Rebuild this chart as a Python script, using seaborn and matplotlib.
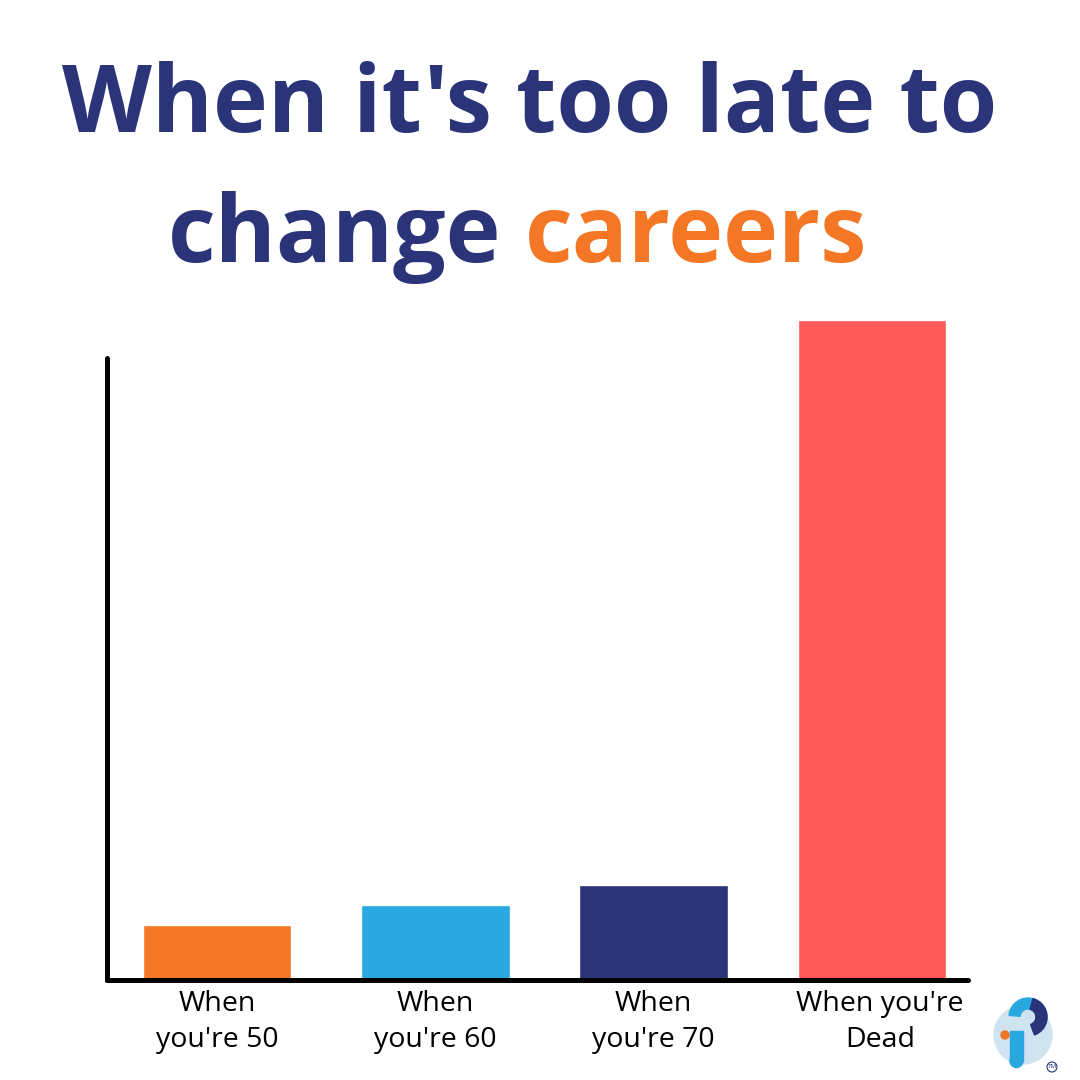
import matplotlib
matplotlib.use("Agg")
import matplotlib.pyplot as plt
import matplotlib.transforms as mtransforms
import seaborn as sns
import pandas as pd
from matplotlib.patches import Circle, Wedge, Rectangle

sns.set_theme(style="white")
plt.rcParams['font.family'] = ['Open Sans', 'DejaVu Sans']

# chart values (arbitrary units)
categories = ["When\nyou're 50", "When\nyou're 60", "When\nyou're 70", "When you're\nDead"]
values = [55, 75, 95, 660]
bar_colors = ["#F47726", "#29A8E0", "#2B3479", "#FF5A57"]

NAVY = "#2B3479"
ORANGE = "#F47726"

df = pd.DataFrame({"when": categories, "level": values})

fig = plt.figure(figsize=(10.8, 10.8), dpi=100)
fig.patch.set_facecolor("white")
ax = fig.add_axes([107/1080, 1 - 980/1080, (968 - 107)/1080, (980 - 358)/1080])

sns.barplot(data=df, x="when", y="level", hue="when", palette=bar_colors,
            width=0.68, saturation=1, legend=False, ax=ax)
for p in ax.patches:
    p.set_clip_on(False)

ax.set_xlim(-0.504, 3.44)
ax.set_ylim(0, 622)
ax.set_xlabel("")
ax.set_ylabel("")
ax.set_yticks([])
ax.tick_params(axis="x", length=0, pad=7, labelsize=20.5, labelcolor="black")
for lbl in ax.get_xticklabels():
    lbl.set_linespacing(1.4)
# last label sits a bit right of its bar in the original
last = ax.get_xticklabels()[-1]
last.set_transform(last.get_transform() + mtransforms.ScaledTranslation(0.08, 0, fig.dpi_scale_trans))
for s in ["top", "right"]:
    ax.spines[s].set_visible(False)
for s in ["left", "bottom"]:
    ax.spines[s].set_color("black")
    ax.spines[s].set_linewidth(3.6)
    ax.spines[s].set_capstyle("round")

# title
TSIZE = 67
fig.text(62/1080, 1 - 132/1080, "When it's too late to", color=NAVY,
         fontsize=TSIZE, fontweight="bold", ha="left", va="baseline")
fig.text(168/1080, 1 - 262/1080, "change", color=NAVY,
         fontsize=TSIZE, fontweight="bold", ha="left", va="baseline")
fig.text(525/1080, 1 - 262/1080, "careers", color=ORANGE,
         fontsize=TSIZE, fontweight="bold", ha="left", va="baseline")

# small logo, bottom right
lax = fig.add_axes([990/1080, 1 - 1075/1080, 75/1080, 85/1080])
lax.set_xlim(0, 75)
lax.set_ylim(0, 85)
lax.set_aspect("equal")
lax.axis("off")
lax.add_patch(Circle((33, 40), 29, color="#CFE3F1"))
lax.add_patch(Wedge((38, 58), 19, -70, 175, width=11, color="#29A8E0"))
lax.add_patch(Wedge((38, 58), 19, -70, 75, width=11, color=NAVY))
lax.add_patch(Rectangle((20, 14), 13, 30, color="#29A8E0"))
lax.add_patch(Circle((26.5, 14), 6.5, color="#29A8E0"))
lax.add_patch(Circle((15, 40), 4, color=ORANGE))
lax.text(62, 8, "TM", fontsize=4.5, color=NAVY, ha="center", va="center")
lax.add_patch(Circle((62, 8), 5, fill=False, ec=NAVY, lw=0.8))

fig.savefig("out.png", dpi=100, facecolor="white")
